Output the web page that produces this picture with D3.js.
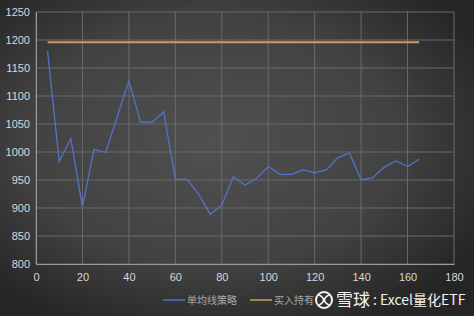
<!DOCTYPE html>
<html>
<head>
<meta charset="utf-8">
<script src="https://cdn.jsdelivr.net/npm/d3@7"></script>
<style>
  html, body { margin: 0; padding: 0; background: #2b2b2b; }
  svg { display: block; }
</style>
</head>
<body>
<svg id="plotSvg"></svg>
<script>
var days = [5, 10, 15, 20, 25, 30, 35, 40, 45, 50, 55, 60, 65, 70, 75, 80, 85,
  90, 95, 100, 105, 110, 115, 120, 125, 130, 135, 140, 145, 150, 155, 160, 165];
var maStrategy = [1180, 983, 1024, 902, 1005, 999, 1063, 1127, 1054, 1053, 1072, 951, 951, 925, 889, 905, 956,
  941, 953, 974, 960, 960, 968, 963, 968, 990, 998, 950, 954, 973, 984, 974, 987];
var buyHold = days.map(function() { return 1196; });
var xTicks = [0, 20, 40, 60, 80, 100, 120, 140, 160, 180];
var yTicks = [800, 850, 900, 950, 1000, 1050, 1100, 1150, 1200, 1250];
var seriesNames = ["单均线策略", "买入持有"];

var width = 474, height = 316;
var svg = d3.select("#plotSvg").attr("width", width).attr("height", height);
var margin = { top: 12, right: 20, bottom: 52, left: 36 };
var w = width - margin.left - margin.right,
    h = height - margin.top - margin.bottom;

// background
var defs = svg.append("defs");
var grad = defs.append("radialGradient").attr("id", "bg")
  .attr("cx", "45%").attr("cy", "45%").attr("r", "65%");
grad.append("stop").attr("offset", "0%").attr("stop-color", "#505050");
grad.append("stop").attr("offset", "60%").attr("stop-color", "#424242");
grad.append("stop").attr("offset", "100%").attr("stop-color", "#252525");
svg.append("rect").attr("width", width).attr("height", height).attr("fill", "url(#bg)");

var g = svg.append("g").attr("transform", "translate(" + margin.left + "," + margin.top + ")");

var x = d3.scaleLinear().domain([0, 180]).range([0, w]);
var y = d3.scaleLinear().domain([800, 1250]).range([h, 0]);

// grid
g.append("g").selectAll("line").data(yTicks).enter().append("line")
  .attr("x1", 0).attr("x2", w)
  .attr("y1", function(d) { return y(d); }).attr("y2", function(d) { return y(d); })
  .attr("stroke", "#6a6a6a").attr("stroke-width", 1);
g.append("g").selectAll("line").data(xTicks).enter().append("line")
  .attr("y1", 0).attr("y2", h)
  .attr("x1", function(d) { return x(d); }).attr("x2", function(d) { return x(d); })
  .attr("stroke", "#6a6a6a").attr("stroke-width", 1);

// axes
var xAxis = g.append("g").attr("transform", "translate(0," + h + ")")
  .call(d3.axisBottom(x).tickValues(xTicks).tickSize(0).tickPadding(9).tickFormat(d3.format("d")));
var yAxis = g.append("g")
  .call(d3.axisLeft(y).tickValues(yTicks).tickSize(0).tickPadding(6).tickFormat(d3.format("d")));
[xAxis, yAxis].forEach(function(a) {
  a.select(".domain").attr("stroke", "#9a9a9a");
  a.selectAll("text").attr("fill", "#d8d8d8")
    .attr("font-family", "Liberation Sans, Arial, sans-serif").attr("font-size", 11);
});

// lines
var line = d3.line()
  .x(function(d, i) { return x(days[i]); })
  .y(function(d) { return y(d); });

g.append("path").datum(buyHold).attr("d", line)
  .attr("fill", "none").attr("stroke", "#cf9a64").attr("stroke-width", 2);
g.append("path").datum(maStrategy).attr("d", line)
  .attr("fill", "none").attr("stroke", "#5273c8").attr("stroke-width", 1.3);

// legend
var legColors = ["#5273c8", "#cf9a64"];
var legX = [163, 250];
var legend = svg.append("g").selectAll("g").data(seriesNames).enter().append("g")
  .attr("transform", function(d, i) { return "translate(" + legX[i] + ",300)"; });
legend.append("line").attr("x1", 0).attr("x2", 22).attr("y1", 0).attr("y2", 0)
  .attr("stroke", function(d, i) { return legColors[i]; }).attr("stroke-width", 1.5);
legend.append("text").attr("x", 24).attr("y", 0).attr("dy", "0.35em")
  .attr("fill", "#a8a8a8").attr("font-size", 10)
  .attr("font-family", "Noto Sans CJK SC, sans-serif")
  .text(function(d) { return d; });

// watermark
var wm = svg.append("g").attr("transform", "translate(315,300)");
wm.append("circle").attr("cx", 9).attr("cy", 0).attr("r", 8)
  .attr("fill", "none").attr("stroke", "#f2f2f2").attr("stroke-width", 2);
wm.append("path").attr("d", "M4,-5 C10,-2 10,2 4,5 M14,-5 C8,-2 8,2 14,5")
  .attr("fill", "none").attr("stroke", "#f2f2f2").attr("stroke-width", 1.6);
wm.append("text").attr("x", 21).attr("y", 0).attr("dy", "0.36em")
  .attr("fill", "#f2f2f2").attr("font-size", 17)
  .attr("font-family", "Noto Sans CJK SC, sans-serif")
  .text("雪球");
wm.append("text").attr("x", 58).attr("y", 0).attr("dy", "0.36em")
  .attr("fill", "#f2f2f2").attr("font-size", 14)
  .attr("font-family", "Noto Sans CJK SC, sans-serif")
  .text(": Excel量化ETF");
</script>
</body>
</html>
